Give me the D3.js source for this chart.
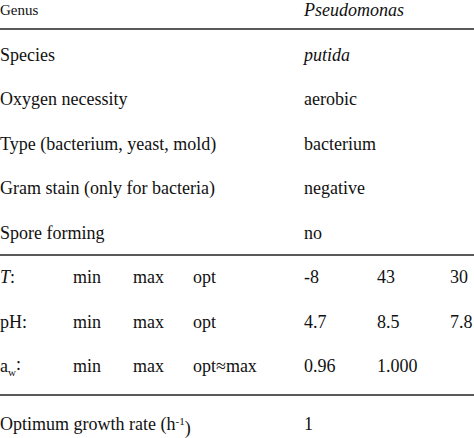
<!DOCTYPE html>
<html><head><meta charset="utf-8">
<script src="https://cdn.jsdelivr.net/npm/d3@7"></script>
<style>body{margin:0;background:#fff}svg{display:block}</style></head>
<body><svg id="c" width="474" height="438"></svg>
<script>
const rowLabels = ["Genus","Species","Oxygen necessity","Type (bacterium, yeast, mold)","Gram stain (only for bacteria)","Spore forming","T:","pH:","aw:","Optimum growth rate (h-1)"];
const rowValues = ["Pseudomonas","putida","aerobic","bacterium","negative","no","","","","1"];
const subLabels = [null,null,null,null,null,null,["min","max","opt"],["min","max","opt"],["min","max","opt≈max"],null];
const rangeValues = [null,null,null,null,null,null,["-8","43","30"],["4.7","8.5","7.8"],["0.96","1.000",""],null];
const italicRows = [0,1];
const rulesY = [29,255,395];

const svg = d3.select("#c");
const font = "'Liberation Serif','Times New Roman',serif";
const y0 = d3.scalePoint().domain(d3.range(9)).range([10,366]);
const y = i => i<9 ? y0(i) : 424;
const subX = d3.scalePoint().domain([0,1,2]).range([73,193]);
const valX = d3.scalePoint().domain([0,1,2]).range([304,450]);
const fs = 18;

const g = svg.append("g").attr("font-family", font).attr("fill","#111");
rowLabels.forEach((lab,i)=>{
  const t = g.append("text").attr("x",0).attr("y",y(i)).attr("dy","0.35em")
    .attr("font-size", i===0?15:fs);
  if (lab==="T:") { t.append("tspan").attr("font-style","italic").text("T"); t.append("tspan").text(":"); }
  else if (lab==="aw:") { t.append("tspan").text("a"); t.append("tspan").attr("font-size",11).attr("dy","0.3em").text("w"); t.append("tspan").attr("dy","-0.3em").text(":"); }
  else if (lab.endsWith("(h-1)")) { t.append("tspan").text("Optimum growth rate (h"); t.append("tspan").attr("font-size",11).attr("dy","-0.5em").text("-1"); t.append("tspan").attr("dy","0.5em").text(")"); }
  else t.text(lab);
  if (rowValues[i]) g.append("text").attr("x",304).attr("y",y(i)).attr("dy","0.35em").attr("font-size",fs)
    .attr("font-style", italicRows.includes(i)?"italic":"normal").text(rowValues[i]);
  if (subLabels[i]) subLabels[i].forEach((s,j)=>g.append("text").attr("x",subX(j)).attr("y",y(i)).attr("dy","0.35em").attr("font-size",fs).text(s));
  if (rangeValues[i]) rangeValues[i].forEach((s,j)=>g.append("text").attr("x",valX(j)).attr("y",y(i)).attr("dy","0.35em").attr("font-size",fs).text(s));
});
rulesY.forEach(yy=>{
  svg.append("line").attr("x1",0).attr("x2",474).attr("y1",yy).attr("y2",yy).attr("stroke","#222").attr("stroke-width",1.3);
});
</script></body></html>
